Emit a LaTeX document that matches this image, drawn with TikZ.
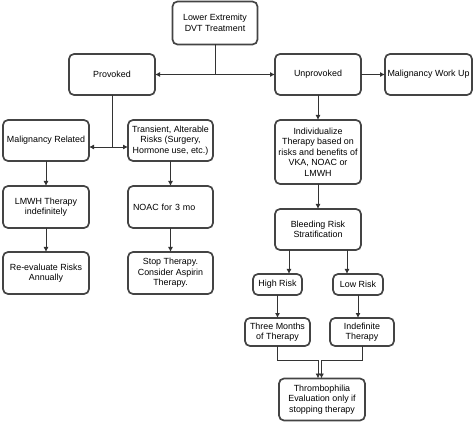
\documentclass[tikz,border=0pt]{standalone}
\usepackage{fontspec}
\setmainfont{Liberation Sans}
\usetikzlibrary{arrows.meta}
\definecolor{boxc}{HTML}{444444}
\definecolor{linec}{HTML}{333333}
\begin{document}
\begin{tikzpicture}[x=1pt,y=-1pt,
  box/.style={draw=boxc, line width=1.7pt, rounded corners=5pt, fill=white,
    align=center, inner sep=2pt, outer sep=0pt, text=black,
    font=\fontsize{8.9}{10.4}\selectfont},
  conn/.style={draw=linec, line width=0.9pt},
  arr/.style={conn, -{Latex[length=5pt,width=5pt]}}]
\useasboundingbox (0,0) rectangle (474,422);

\node[box, minimum width=85pt, minimum height=43pt] (top) at (215,23) {Lower Extremity\\DVT Treatment};
\node[box, minimum width=86pt, minimum height=41pt] (prov) at (112,74.5) {Provoked};
\node[box, minimum width=86pt, minimum height=41pt] (unprov) at (318,74.5) {Unprovoked};
\node[box, minimum width=87pt, minimum height=41pt] (mwu) at (428.5,74.5) {Malignancy Work Up};

\node[box, minimum width=86pt, minimum height=41pt] (malrel) at (46,140.5) {Malignancy Related};
\node[box, minimum width=85pt, minimum height=41pt] (trans) at (170.5,140.5) {Transient, Alterable\\Risks (Surgery,\\Hormone use, etc.)};
\node[box, minimum width=86pt, minimum height=42pt] (lmwh) at (46,207) {LMWH Therapy\\indefinitely};
\node[box, text width=75pt, inner xsep=5pt, align=left, minimum height=42pt] (noac) at (170.5,207) {NOAC for 3 mo};
\node[box, minimum width=86pt, minimum height=42pt] (reeval) at (46,273) {Re-evaluate Risks\\Annually};
\node[box, minimum width=85pt, minimum height=42pt] (stop) at (170.5,273) {Stop Therapy.\\Consider Aspirin\\Therapy.};

\node[box, minimum width=86pt, minimum height=64pt] (indiv) at (318,152) {Individualize\\Therapy based on\\risks and benefits of\\VKA, NOAC or\\LMWH};
\node[box, minimum width=86pt, minimum height=41pt] (bleed) at (318,229.5) {Bleeding Risk\\Stratification};
\node[box, minimum width=49pt, minimum height=21pt] (high) at (277.5,284.5) {High Risk};
\node[box, minimum width=50pt, minimum height=21pt] (low) at (358,284.5) {Low Risk};
\node[box, minimum width=65pt, minimum height=28pt] (three) at (277.5,332) {Three Months\\of Therapy};
\node[box, minimum width=64pt, minimum height=28pt] (indef) at (362,332) {Indefinite\\Therapy};
\node[box, minimum width=86pt, minimum height=42pt] (throm) at (322,399.5) {Thrombophilia\\Evaluation only if\\stopping therapy};

% connectors
\coordinate (j1) at (top.south |- prov.east);
\draw[conn] (top.south) -- (j1);
\draw[arr] (j1) -- (prov.east);
\draw[arr] (j1) -- (unprov.west);
\draw[arr] (unprov.east) -- (mwu.west);
\draw[arr] (unprov.south) -- (indiv.north);

\coordinate (j2) at (112,147);
\draw[conn] (prov.south) -- (j2);
\draw[arr] (j2) -- (j2 -| malrel.east);
\draw[arr] (j2) -- (j2 -| trans.west);

\draw[arr] (malrel.south) -- (lmwh.north);
\draw[arr] (lmwh.south) -- (reeval.north);
\draw[arr] (trans.south) -- (noac.north);
\draw[arr] (noac.south) -- (stop.north);

\draw[arr] (indiv.south) -- (bleed.north);
\draw[arr] ([xshift=-29pt]bleed.south) -- ([xshift=-29pt]bleed.south |- high.north);
\draw[arr] ([xshift=29pt]bleed.south) -- ([xshift=29pt]bleed.south |- low.north);
\draw[arr] (high.south) -- (high.south |- three.north);
\draw[arr] (low.south) -- (low.south |- indef.north);
\draw[arr] (three.south) -- ++(0,14) -| ([xshift=-4pt]throm.north);
\draw[arr] (indef.south) -- ++(0,14) -| ([xshift=-0.5pt]throm.north);
\end{tikzpicture}
\end{document}
